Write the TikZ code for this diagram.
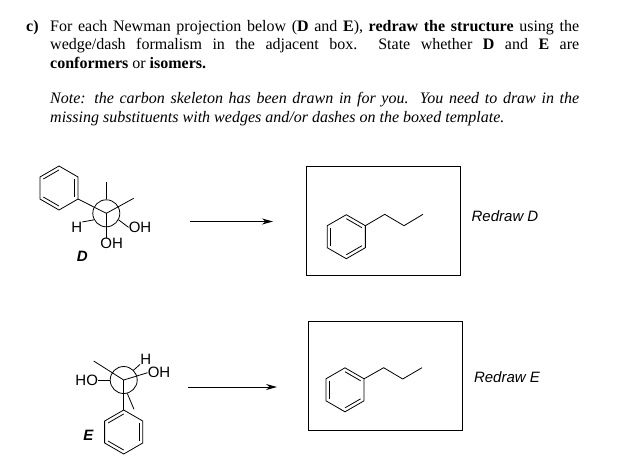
\documentclass[tikz,border=0pt]{standalone}
\usepackage{fontspec}
\setmainfont{Liberation Serif}
\setsansfont{Liberation Sans}
\usepackage{tikz}
\usetikzlibrary{arrows.meta,calc}

\tikzset{
  bond/.style={line width=0.8pt,line join=miter},
  newman/.style={circle,draw,line width=0.8pt,minimum size=27pt,inner sep=0pt},
  atom/.style={inner sep=0pt,font=\sffamily\fontsize{15}{15}\selectfont},
  tag/.style={inner sep=0pt,font=\sffamily\bfseries\itshape\fontsize{15}{15}\selectfont},
  boxed/.style={draw,line width=1pt,minimum width=154pt,minimum height=109pt,inner sep=0pt},
  redraw/.style={inner sep=0pt,font=\sffamily\itshape\fontsize{15}{15}\selectfont},
  para/.style={inner sep=0pt,anchor=north west,text width=529pt,align=justify,
    font=\fontsize{16}{18.6}\selectfont},
  goes/.style={line width=1pt,-{Stealth[length=11pt,width=6pt]}}
}

% name, centre, double bonds
\newcommand{\benzene}[3]{
  \coordinate (#1) at #2;
  \foreach \a in {30,90,...,330}
    \coordinate (#1v\a) at ($(#1)+(\a:22)$);
  \draw[bond] (#1v30) -- (#1v90) -- (#1v150) -- (#1v210) -- (#1v270) -- (#1v330) -- cycle;
  \foreach \a/\b in {#3}
    \draw[bond] ($(#1)!.82!(#1v\a)$) -- ($(#1)!.82!(#1v\b)$);
}

\begin{document}
\begin{tikzpicture}[x=1pt,y=-1pt]
  \useasboundingbox (0,0) rectangle (644,475);

  % question text
  \node[inner sep=0pt,anchor=north west,font=\bfseries\fontsize{16}{18.6}\selectfont] (part) at (26,20) {c)};
  \node[para] (ask) at (50,20) {For each Newman projection below (\textbf{D} and \textbf{E}), \textbf{redraw the structure} using the\linebreak
    wedge/dash formalism in the adjacent box.\ \ State whether \textbf{D} and \textbf{E} are\linebreak
    \textbf{conformers} or \textbf{isomers.}};
  \node[para,font=\itshape\fontsize{16}{18.6}\selectfont] (note) at (50,92.5) {Note: the carbon skeleton has been drawn in for you.\ \ You need to draw in the\linebreak
    missing substituents with wedges and/or dashes on the boxed template.};

  % projection D
  \benzene{phD}{(59,188)}{270/210,30/330,150/90}
  \node[newman] (nD) at (106.3,213.3) {};
  \node[atom] (hD) at (76.7,227.3) {H};
  \node[atom] (ohD) at (140,227.3) {OH};
  \node[atom] (obD) at (111.7,243.3) {OH};
  \node[tag] (tagD) at (82.3,256.7) {D};
  \coordinate (backD) at (106.3,182.3);
  \coordinate (frontD) at (133.7,198.3);
  \draw[bond] (nD.center) -- (phDv30);
  \draw[bond] (nD.center) -- (frontD);
  \draw[bond] (nD.center) -- (nD |- obD.north);
  \draw[bond] (nD.north) -- (backD);
  \draw[bond] (nD.208) -- (hD.north east);
  \draw[bond] (nD.332) -- (ohD.west);

  % projection E
  \benzene{phE}{(123.7,432)}{270/210,30/330,150/90}
  \node[newman] (nE) at (123.7,380) {};
  \node[atom] (hoE) at (86.7,380) {HO};
  \node[atom] (hE) at (145.7,359) {H};
  \node[atom] (ohE) at (159,372.7) {OH};
  \node[tag] (tagE) at (88.3,435) {E};
  \coordinate (frontE) at (93.7,361);
  \coordinate (backE) at (134,409.3);
  \draw[bond] (nE.center) -- (frontE);
  \draw[bond] (nE.center) -- (ohE.west);
  \draw[bond] (nE.center) -- (phEv270);
  \draw[bond] (nE.west) -- (hoE.east);
  \draw[bond] (nE.285) -- (backE);
  \draw[bond] (nE.45) -- (hE.south west);

  % arrows
  \coordinate (fromD) at (190,221.5);
  \coordinate (toD) at (273,221.5);
  \coordinate (fromE) at (188,387);
  \coordinate (toE) at (277,387);
  \draw[goes] (fromD) -- (toD);
  \draw[goes] (fromE) -- (toE);

  % box D
  \node[boxed] (boxD) at (383,221.3) {};
  \benzene{ringD}{(346.3,236.7)}{150/210,270/330,30/90}
  \coordinate (aD) at (384.7,214.3);
  \coordinate (bD) at (404,225.7);
  \coordinate (cD) at (423,214.3);
  \draw[bond] (ringDv330) -- (aD) -- (bD) -- (cD);
  \node[redraw] (labD) at (505,216) {Redraw D};

  % box E
  \node[boxed] (boxE) at (385.3,376.3) {};
  \benzene{ringE}{(345,389.8)}{150/210,270/330,30/90}
  \coordinate (aE) at (383.7,367.7);
  \coordinate (bE) at (402.7,379);
  \coordinate (cE) at (422,367.7);
  \draw[bond] (ringEv330) -- (aE) -- (bE) -- (cE);
  \node[redraw] (labE) at (507,377) {Redraw E};
\end{tikzpicture}
\end{document}
